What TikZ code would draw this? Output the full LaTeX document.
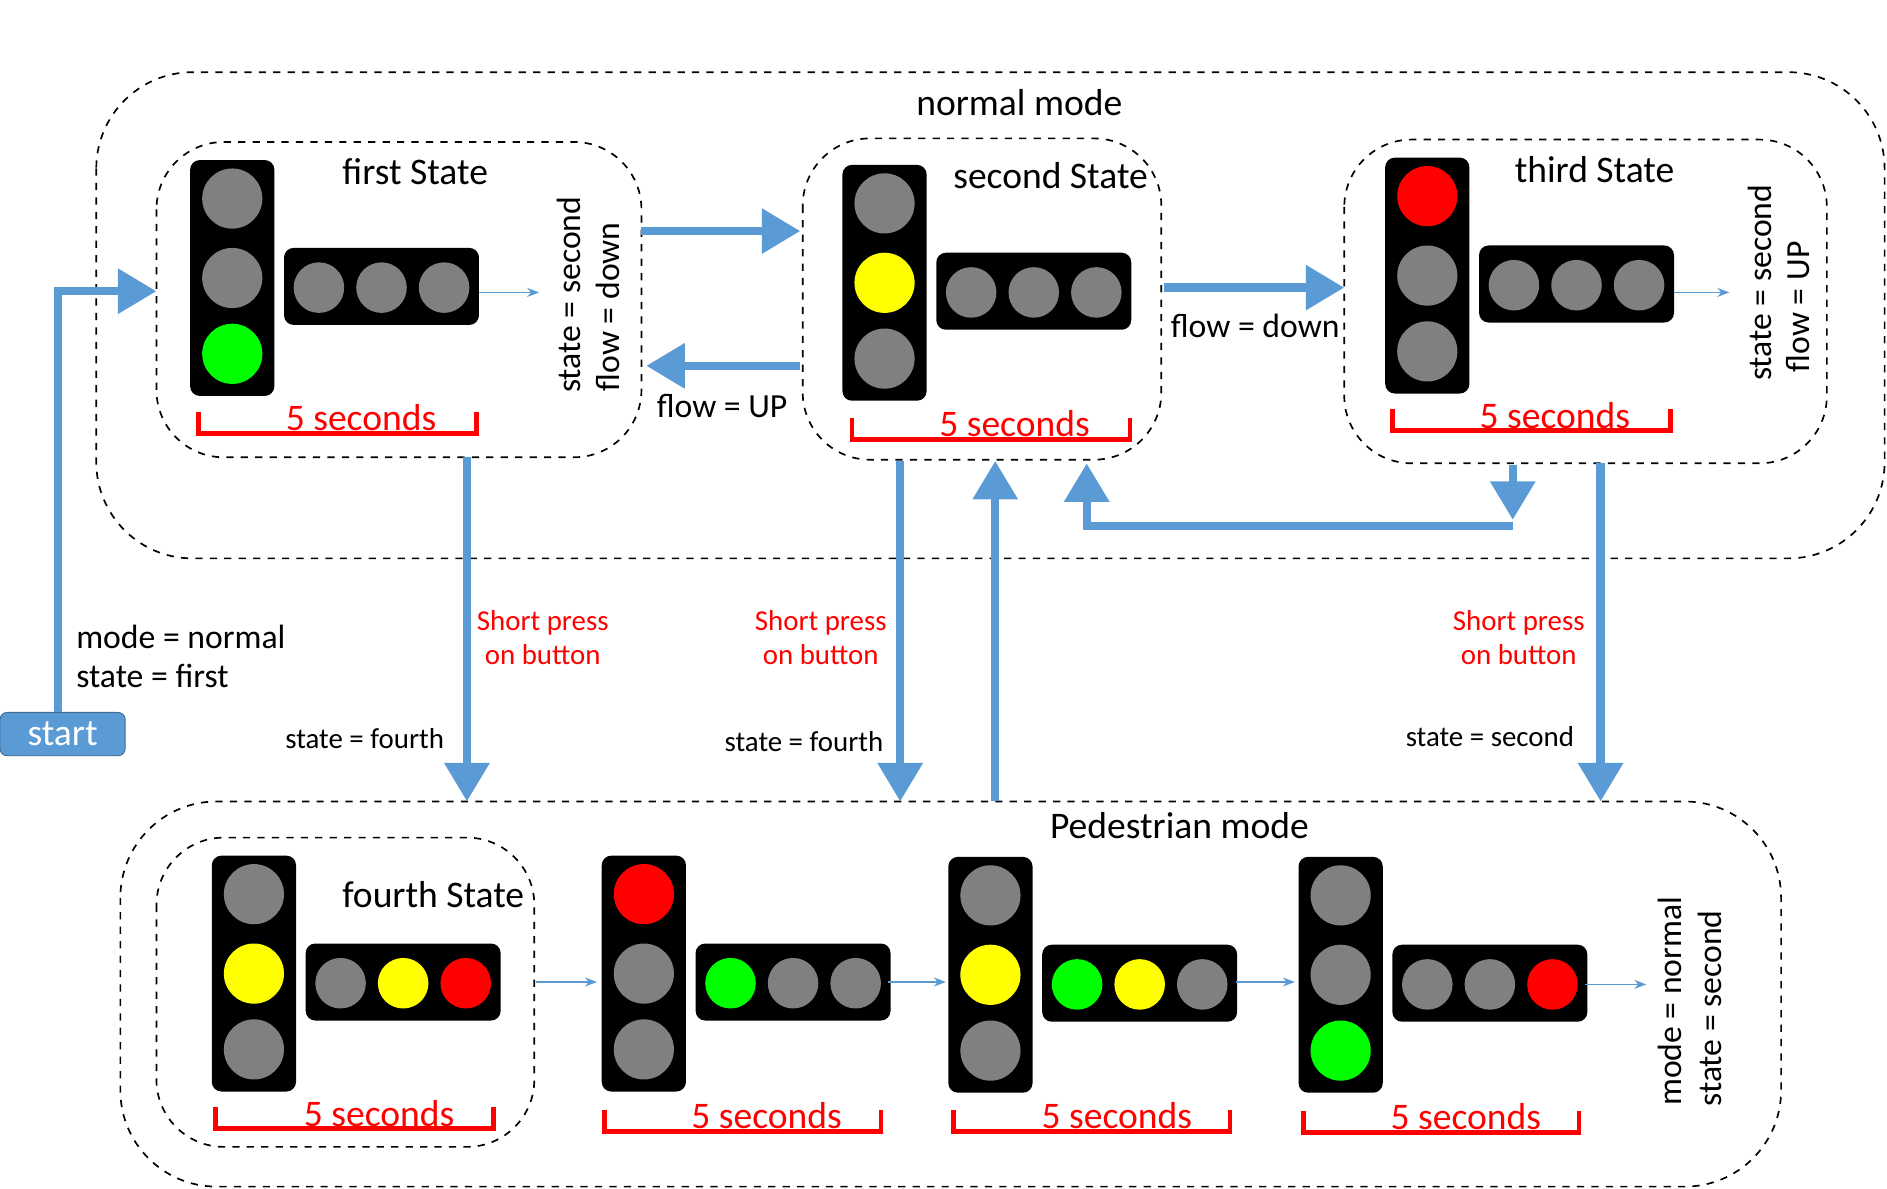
\documentclass[tikz,border=0pt]{standalone}
\usepackage{fontspec}
\setmainfont{Carlito}
\usetikzlibrary{arrows.meta}
\definecolor{ablue}{HTML}{5B9BD5}
\definecolor{lgray}{HTML}{808080}
\definecolor{lgreen}{HTML}{00FF00}
\definecolor{lyellow}{HTML}{FFFF00}
\definecolor{lred}{HTML}{FF0000}
\tikzset{
 box/.style={draw,dashed,rounded corners=28,line width=0.7pt},
 big/.style={font=\fontsize{14}{16}\selectfont},
 title/.style={font=\fontsize{15.6}{18}\selectfont},
 small/.style={font=\fontsize{12}{14}\selectfont},
 red label/.style={small,text=lred,align=center},
 thick arrow/.style={draw=ablue,line width=3.5pt,-{Triangle[length=16,width=18]}},
 thin arrow/.style={draw=ablue,line width=0.6pt,-{Stealth[length=5]}},
 housing/.style={fill=black,rounded corners=4},
 bracket/.style={draw=lred,line width=2pt},
}
\newcommand{\tlight}[8]{%
 \fill[housing] (#1,#2) rectangle ++(70,196);
 \fill[#3] (#1+35,#2+32) circle (25);
 \fill[#4] (#1+35,#2+98) circle (25);
 \fill[#5] (#1+35,#2+161) circle (25);
 \fill[housing] (#1+78,#2+73) rectangle ++(162,64);
 \fill[#6] (#1+107,#2+106) circle (21);
 \fill[#7] (#1+159,#2+106) circle (21);
 \fill[#8] (#1+211,#2+106) circle (21);
}
\newcommand{\brk}[4]{%
 \draw[bracket] (#1,#3-18) -- (#1,#3) -- (#2,#3) -- (#2,#3-18);
 \node[title,text=lred] at (#4,#3-13) {5 seconds};
}
\begin{document}
\begin{tikzpicture}[x=0.5pt,y=-0.5pt]
\useasboundingbox (0,0) rectangle (1568,988);
\draw[box,rounded corners=40] (80,60) rectangle (1566,464);
\node[title] (nm) at (847,85) {normal mode};
\draw[box,rounded corners=40] (100,666) rectangle (1480,986);
\node[title] (pm) at (980,686) {Pedestrian mode};
\draw[box] (130,118) rectangle (533,380);
\node[title] (t1) at (345,143) {first State};
\draw[box] (667,115) rectangle (965,382);
\node[title] (t2) at (873,146) {second State};
\draw[box] (1117,116) rectangle (1518,385);
\node[title] (t3) at (1325,141) {third State};
\draw[box] (130,696) rectangle (444,953);
\node[title] (t4) at (360,743) {fourth State};
\tlight{158}{133}{lgray}{lgray}{lgreen}{lgray}{lgray}{lgray}
\brk{165}{396}{360}{300}
\tlight{700}{137}{lgray}{lyellow}{lgray}{lgray}{lgray}{lgray}
\brk{708}{939}{365}{843}
\tlight{1151}{131}{lred}{lgray}{lgray}{lgray}{lgray}{lgray}
\brk{1157}{1388}{358}{1292}
\tlight{176}{711}{lgray}{lyellow}{lgray}{lgray}{lyellow}{lred}
\brk{179}{410}{938}{315}
\tlight{500}{711}{lred}{lgray}{lgray}{lgreen}{lgray}{lgray}
\brk{502}{732}{940}{637}
\tlight{788}{712}{lgray}{lyellow}{lgray}{lgreen}{lyellow}{lgray}
\brk{792}{1022}{940}{928}
\tlight{1079}{712}{lgray}{lgray}{lgreen}{lgray}{lgray}{lred}
\brk{1083}{1312}{941}{1218}
\coordinate (a1) at (398,243); \coordinate (b1) at (448,243);
\draw[thin arrow] (a1) -- (b1);
\coordinate (a3) at (1391,243); \coordinate (b3) at (1437,243);
\draw[thin arrow] (a3) -- (b3);
\coordinate (p1) at (445,816); \coordinate (p2) at (496,816);
\draw[thin arrow] (p1) -- (p2);
\coordinate (p3) at (738,816); \coordinate (p4) at (786,816);
\draw[thin arrow] (p3) -- (p4);
\coordinate (p5) at (1027,816); \coordinate (p6) at (1076,816);
\draw[thin arrow] (p5) -- (p6);
\coordinate (p7) at (1317,818); \coordinate (p8) at (1368,818);
\draw[thin arrow] (p7) -- (p8);
\node[big,rotate=90] (r1) at (473,245) {state = second};
\node[big,rotate=90] (r2) at (505,255) {flow = down};
\node[big,rotate=90] (r3) at (1462,235) {state = second};
\node[big,rotate=90] (r4) at (1494,255) {flow = UP};
\node[big,rotate=90] (r5) at (1388,832) {mode = normal};
\node[big,rotate=90] (r6) at (1421,838) {state = second};
\node[fill=ablue,draw=ablue!70!black,rounded corners=3,text=white,title,minimum width=52pt,minimum height=18pt,inner sep=0] (start) at (52,610) {start};
\coordinate (s1) at (48,242);
\coordinate (s2) at (130,242);
\draw[thick arrow] (start.north -| s1) -- (s1) -- (s2);
\node[big,anchor=west,inner sep=0] (m1) at (63,529) {mode = normal};
\node[big,anchor=west,inner sep=0] (m2) at (63,562) {state = first};
\coordinate (f1) at (533,192); \coordinate (f2) at (665,192);
\draw[thick arrow] (f1) -- (f2);
\coordinate (g1) at (665,304); \coordinate (g2) at (537,304);
\draw[thick arrow] (g1) -- (g2);
\node[big] (fu) at (600,337) {flow = UP};
\coordinate (h1) at (967,239); \coordinate (h2) at (1117,239);
\draw[thick arrow] (h1) -- (h2);
\node[big] (fd) at (1043,271) {flow = down};
\coordinate (k1) at (1257,386); \coordinate (k2) at (1257,432);
\draw[thick arrow] (k1) -- (k2);
\coordinate (k3) at (1257,437); \coordinate (k4) at (903,437); \coordinate (k5) at (903,385);
\draw[thick arrow] (k3) -- (k4) -- (k5);
\coordinate (v1) at (388,380); \coordinate (v2) at (388,666);
\draw[thick arrow] (v1) -- (v2);
\node[red label] (sp1) at (451,530) {Short press\\on button};
\node[small] (sf1) at (303,614) {state = fourth};
\coordinate (v3) at (748,383); \coordinate (v4) at (748,666);
\draw[thick arrow] (v3) -- (v4);
\node[red label] (sp2) at (682,530) {Short press\\on button};
\node[small] (sf2) at (668,616) {state = fourth};
\coordinate (v5) at (827,666); \coordinate (v6) at (827,383);
\draw[thick arrow] (v5) -- (v6);
\coordinate (v7) at (1330,385); \coordinate (v8) at (1330,666);
\draw[thick arrow] (v7) -- (v8);
\node[red label] (sp3) at (1262,530) {Short press\\on button};
\node[small] (ss3) at (1238,612) {state = second};
\end{tikzpicture}
\end{document}
